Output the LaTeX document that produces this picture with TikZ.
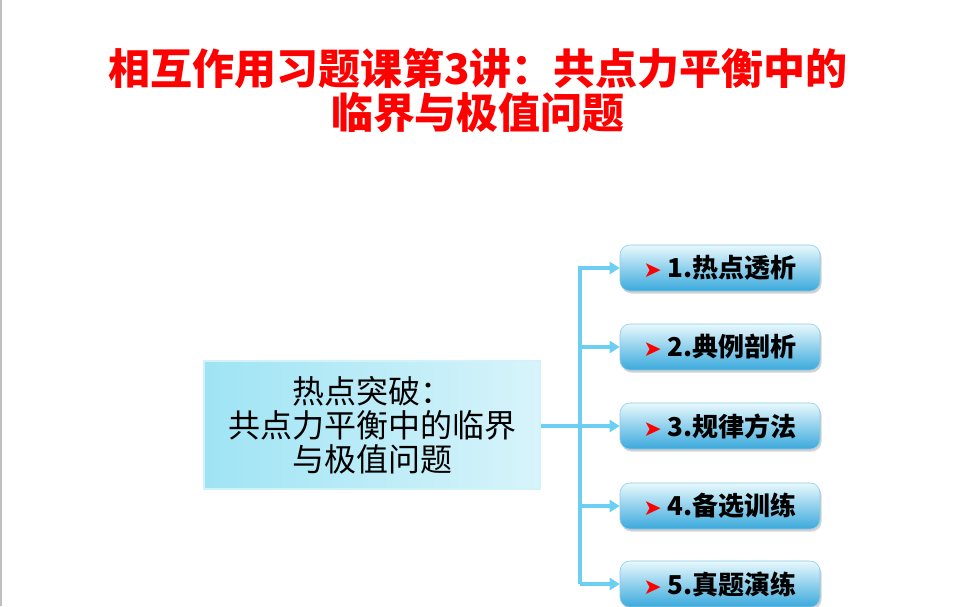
\documentclass[tikz,border=0pt]{standalone}
\usepackage{fontspec}
\setmainfont{Liberation Sans}
\newfontfamily\cjk{Noto Sans CJK SC}
\newfontfamily\cjkm{Noto Sans CJK SC Medium}
\newfontfamily\sym{DejaVu Sans}
\usetikzlibrary{shadows,arrows.meta}
\definecolor{ln}{HTML}{6CCFF2}
\definecolor{lb}{HTML}{8EDFF2}
\definecolor{rb}{HTML}{3AA9DC}
\begin{document}
\begin{tikzpicture}[x=1pt,y=-1pt,
  item/.style={rounded corners=10pt,minimum width=200pt,minimum height=46pt,top color=white!80!lb,bottom color=rb,draw=rb!60!white,line width=0.6pt,drop shadow={shadow xshift=1.5pt,shadow yshift=-2.5pt,opacity=0.35},font=\cjk\bfseries\fontsize{26}{28}\selectfont,text=black},
  conn/.style={ln,line width=4pt},
  arr/.style={conn,-{Triangle[length=10pt,width=12pt]}}]
\useasboundingbox (0,0) rectangle (970,606);
\fill[white] (0,0) rectangle (970,606);
\draw[gray!50,line width=1.5pt] (1,0) -- (1,606);
\node[font=\cjk\bfseries\fontsize{42}{44}\selectfont,text=red,align=center] (t) at (478,90) {相互作用习题课第3讲：共点力平衡中的\\临界与极值问题};
\node[draw=white!60!lb,line width=2pt,left color=lb!85!white,right color=lb!35!white,minimum width=336pt,minimum height=128pt,align=center,font=\cjk\fontsize{32}{34}\selectfont] (m) at (372,425) {热点突破：\\共点力平衡中的临界\\与极值问题};
\foreach \i/\y/\t in {1/268/1.热点透析,2/347/2.典例剖析,3/426/3.规律方法,4/506/4.备选训练,5/584/5.真题演练}{
  \node[item] (b\i) at (720,\y) {{\sym\color{red}\fontsize{22}{24}\selectfont ➤}\ \t};
}
\coordinate (j) at (580,426);
\coordinate (top) at (580,266);
\coordinate (bot) at (580,584);
\draw[conn] (m.east |- j) -- (j);
\draw[conn] (top) -- (bot);
\foreach \i in {1,...,5}{\draw[arr] (top |- b\i.west) -- (b\i.west);}
\end{tikzpicture}
\end{document}
